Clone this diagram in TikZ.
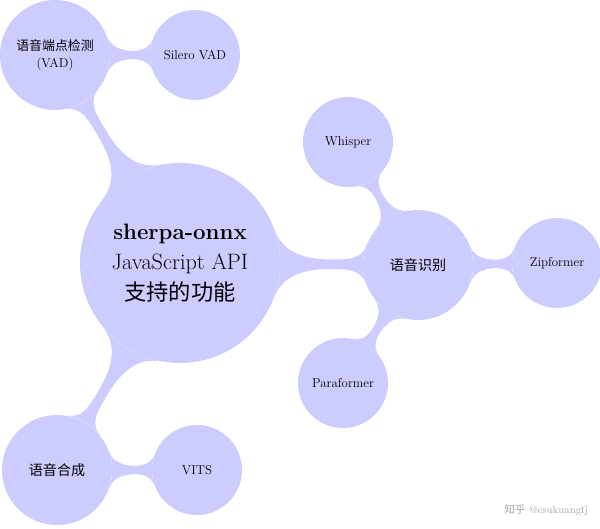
\documentclass[tikz,border=0pt]{standalone}
\usepackage{fontspec}
\newfontfamily\cjk{Noto Sans CJK SC}
\usetikzlibrary{mindmap}
\begin{document}
\begin{tikzpicture}[x=0.03cm,y=-0.03cm,
  bubble/.style={circle, fill=blue!20, minimum size=#1, inner sep=0pt, align=center, font=\fontsize{11}{14}\selectfont}]
\useasboundingbox (0,0) rectangle (600,528);
\node[bubble=6cm, font=\fontsize{19}{26}\selectfont] (c) at (180,263) {\textbf{sherpa-onnx}\\ JavaScript API\\ {\cjk 支持的功能}};
\node[bubble=3.3cm] (vad) at (55,55) {{\cjk 语音端点检测}\\(VAD)};
\node[bubble=2.7cm] (sil) at (195,55) {Silero VAD};
\node[bubble=3.3cm, font=\fontsize{12}{14}\selectfont] (asr) at (418,265) {\cjk 语音识别};
\node[bubble=2.7cm] (wh) at (348,142) {Whisper};
\node[bubble=2.7cm] (zip) at (557,263) {Zipformer};
\node[bubble=2.7cm] (para) at (343,383) {Paraformer};
\node[bubble=3.3cm, font=\fontsize{12}{14}\selectfont] (tts) at (57,470) {\cjk 语音合成};
\node[bubble=2.7cm] (vits) at (197,470) {VITS};
\begin{scope}[mindmap, concept color=blue!20]
\foreach \a/\b in {c/vad,vad/sil,c/asr,asr/wh,asr/zip,asr/para,c/tts,tts/vits}
  \path (\a) to[circle connection bar switch color=from (blue!20) to (blue!20)] (\b);
\end{scope}
\node[anchor=east, text=gray!70, font=\small] (wm) at (592,510) {{\cjk 知乎} @csukuangfj};
\end{tikzpicture}
\end{document}
